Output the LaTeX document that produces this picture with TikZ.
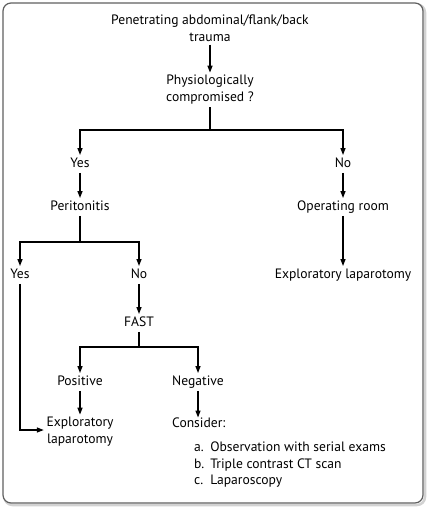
\documentclass[tikz,border=0pt]{standalone}
\usepackage{fontspec}
\setmainfont{PT Sans}
\usetikzlibrary{arrows.meta,calc}
\tikzset{
  txt/.style={font=\fontsize{13.6bp}{17bp}\selectfont, inner sep=2.5bp, text height=9.5bp, text depth=3bp},
  mtxt/.style={font=\fontsize{13.6bp}{17bp}\selectfont, inner sep=2.5bp, align=center},
  arr/.style={-{Triangle[length=7bp,width=5bp]}, line width=1.3bp},
  ln/.style={line width=1.3bp},
}
\begin{document}
\begin{tikzpicture}[x=1bp,y=-1bp]
\useasboundingbox (0,0) rectangle (431,513);
% frame with shadow
\draw[gray!35, line width=2.5bp, rounded corners=8bp] (4.5,4.5) rectangle (425,505);
\draw[gray!75!black, line width=1.2bp, rounded corners=8bp, fill=white] (3,3) rectangle (423,503);

\node[mtxt] (title) at (210,28.5) {Penetrating abdominal/flank/back\\trauma};
\node[mtxt] (phys) at (210,90) {Physiologically\\compromised ?};
\node[txt] (yes1) at (80,164) {Yes};
\node[txt] (no1) at (343,164) {No};
\node[txt] (perit) at (80,207) {Peritonitis};
\node[txt] (oproom) at (343,207) {Operating room};
\node[txt] (explap1) at (343,275) {Exploratory laparotomy};
\node[txt] (yes2) at (20,275) {Yes};
\node[txt] (no2) at (139,275) {No};
\node[txt] (fast) at (139,323) {FAST};
\node[txt] (pos) at (80,382) {Positive};
\node[txt] (neg) at (198,382) {Negative};
\node[mtxt] (explap2) at (80,432) {Exploratory\\laparotomy};
\node[txt, anchor=west, inner sep=0pt] (consider) at (172,424) {Consider:};
\node[anchor=north west, inner sep=0pt, font=\fontsize{13.6bp}{16.5bp}\selectfont] (list) at (194,440)
  {\begin{tabular}{@{}l@{\hspace{6bp}}l@{}}a. & Observation with serial exams\\ b. & Triple contrast CT scan\\ c. & Laparoscopy\end{tabular}};

\coordinate (j1) at (210,130);
\coordinate (j2) at (80,242);
\coordinate (j3) at (139,347);

\draw[arr] (title) -- (phys);
\draw[ln] (phys.south) -- (j1);
\draw[arr] (j1) -| (yes1.north);
\draw[arr] (j1) -| (no1.north);
\draw[arr] (yes1) -- (perit);
\draw[arr] (no1) -- (oproom);
\draw[arr] (oproom) -- (explap1);
\draw[ln] (perit.south) -- (j2);
\draw[arr] (j2) -| (yes2.north);
\draw[arr] (j2) -| (no2.north);
\draw[arr] (no2) -- (fast);
\draw[ln] (fast.south) -- (j3);
\draw[arr] (j3) -| (pos.north);
\draw[arr] (j3) -| (neg.north);
\draw[arr] (pos) -- (explap2);
\draw[arr] (neg.south) -- (neg.south |- consider.north);
\draw[arr] (yes2.south) |- ([yshift=2bp]explap2.west);
\end{tikzpicture}
\end{document}
